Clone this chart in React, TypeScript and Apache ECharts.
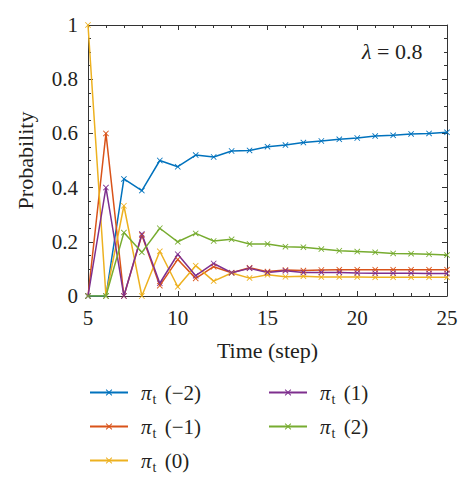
import React, { useEffect, useRef } from "react";
import * as echarts from "echarts";

const steps = [5, 6, 7, 8, 9, 10, 11, 12, 13, 14, 15, 16, 17, 18, 19, 20, 21, 22, 23, 24, 25];
const piM2 = [0, 0, 0.432, 0.389, 0.5, 0.477, 0.52, 0.513, 0.535, 0.537, 0.551, 0.557, 0.566, 0.572, 0.578, 0.583, 0.59, 0.593, 0.598, 0.6, 0.604];
const piM1 = [0, 0.6, 0, 0.225, 0.038, 0.135, 0.065, 0.108, 0.086, 0.104, 0.09, 0.096, 0.094, 0.096, 0.097, 0.097, 0.097, 0.097, 0.097, 0.097, 0.097];
const pi0 = [1.0, 0, 0.333, 0, 0.165, 0.034, 0.112, 0.055, 0.085, 0.066, 0.078, 0.071, 0.073, 0.07, 0.07, 0.07, 0.069, 0.069, 0.069, 0.069, 0.069];
const pi1 = [0, 0.4, 0, 0.229, 0.047, 0.154, 0.075, 0.12, 0.086, 0.102, 0.087, 0.093, 0.087, 0.087, 0.087, 0.085, 0.084, 0.084, 0.084, 0.083, 0.083];
const pi2 = [0, 0, 0.234, 0.161, 0.25, 0.2, 0.231, 0.203, 0.209, 0.192, 0.192, 0.182, 0.18, 0.173, 0.167, 0.164, 0.161, 0.157, 0.156, 0.154, 0.151];

const seriesNames = ["\u22122", "\u22121", "0", "1", "2"];
const seriesValues = [piM2, piM1, pi0, pi1, pi2];
const colors = ["#0072BD", "#D95319", "#EDB120", "#7E2F8E", "#77AC30"];

const xTickInterval = 5;
const yTickInterval = 0.2;

const FONT = "'Liberation Serif', 'DejaVu Serif', serif";
const TEXT = "#231f20";
const AXIS = "#333333";
const XMARK = "path://M0,1 L1,0 L5,4 L9,0 L10,1 L6,5 L10,9 L9,10 L5,6 L1,10 L0,9 L4,5 Z";

export default function App() {
  const ref = useRef<HTMLDivElement>(null);
  useEffect(() => {
    if (!ref.current) return;
    const chart = echarts.init(ref.current, null, { renderer: "svg" });

    const axisCommon = {
      axisLine: { show: true, onZero: false, lineStyle: { color: AXIS, width: 1 } },
      axisTick: { show: true, inside: true, length: 5, lineStyle: { color: AXIS, width: 1 } },
      minorTick: { show: true, length: 3, lineStyle: { color: AXIS, width: 1 } },
      splitLine: { show: false },
    };

    const legendFormatter = (name: string) => `{pi|\u03c0}{sub|t} {n|(${name})}`;
    const legendRich = {
      pi: { fontFamily: FONT, fontStyle: "italic", fontSize: 21, color: TEXT, padding: [0, 0, 0, 8] },
      sub: { fontFamily: FONT, fontSize: 14, color: TEXT, padding: [13, 3, 0, 1] },
      n: { fontFamily: FONT, fontSize: 21, color: TEXT },
    };

    const legendCommon = {
      orient: "vertical",
      itemWidth: 38,
      itemHeight: 8,
      itemGap: 10,
      formatter: legendFormatter,
      textStyle: { rich: legendRich, fontFamily: FONT, fontSize: 21, color: TEXT },
      selectedMode: false,
    };

    chart.setOption({
      animation: false,
      backgroundColor: "#ffffff",
      grid: { left: 88, right: 27, top: 25, bottom: 193, containLabel: false, outerBoundsMode: "none" },
      xAxis: [
        {
          type: "value",
          min: 5,
          max: 25,
          interval: xTickInterval,
          minorTick: { ...axisCommon.minorTick, splitNumber: 5 },
          axisLine: axisCommon.axisLine,
          axisTick: axisCommon.axisTick,
          splitLine: axisCommon.splitLine,
          position: "bottom",
          name: "Time (step)",
          nameLocation: "middle",
          nameGap: 43,
          nameTextStyle: { fontFamily: FONT, fontSize: 22, color: TEXT },
          axisLabel: { fontFamily: FONT, fontSize: 21, color: TEXT, margin: 11 },
        },
        {
          type: "value",
          min: 5,
          max: 25,
          interval: xTickInterval,
          position: "top",
          minorTick: { ...axisCommon.minorTick, splitNumber: 5 },
          axisLine: axisCommon.axisLine,
          axisTick: axisCommon.axisTick,
          splitLine: axisCommon.splitLine,
          axisLabel: { show: false },
        },
      ],
      yAxis: [
        {
          type: "value",
          min: 0,
          max: 1,
          interval: yTickInterval,
          position: "left",
          minorTick: { ...axisCommon.minorTick, splitNumber: 4 },
          axisLine: axisCommon.axisLine,
          axisTick: axisCommon.axisTick,
          splitLine: axisCommon.splitLine,
          name: "Probability",
          nameLocation: "middle",
          nameGap: 52,
          nameTextStyle: { fontFamily: FONT, fontSize: 22, color: TEXT },
          axisLabel: { fontFamily: FONT, fontSize: 21, color: TEXT, margin: 10 },
        },
        {
          type: "value",
          min: 0,
          max: 1,
          interval: yTickInterval,
          position: "right",
          minorTick: { ...axisCommon.minorTick, splitNumber: 4 },
          axisLine: axisCommon.axisLine,
          axisTick: axisCommon.axisTick,
          splitLine: axisCommon.splitLine,
          axisLabel: { show: false },
        },
      ],
      legend: [
        { ...legendCommon, left: 84, top: 377, data: seriesNames.slice(0, 3) },
        { ...legendCommon, left: 263, top: 377, data: seriesNames.slice(3) },
      ],
      graphic: [
        {
          type: "text",
          left: 362,
          top: 40,
          style: {
            text: "{l|\u03bb} = 0.8",
            rich: {
              l: { fontFamily: FONT, fontStyle: "italic", fontSize: 22, fill: TEXT },
            },
            fontFamily: FONT,
            fontSize: 22,
            fill: TEXT,
          },
        },
      ],
      series: seriesNames.map((name, i) => ({
        name,
        type: "line",
        xAxisIndex: 0,
        yAxisIndex: 0,
        data: steps.map((s, j) => [s, seriesValues[i][j]]),
        symbol: XMARK,
        symbolSize: 6,
        showSymbol: true,
        lineStyle: { color: colors[i], width: 1.5 },
        itemStyle: { color: colors[i] },
        emphasis: { disabled: true },
      })),
    });

    return () => chart.dispose();
  }, []);

  return (
    <div
      ref={ref}
      style={{ position: "fixed", left: 0, top: 0, width: 474, height: 489, background: "#fff" }}
    />
  );
}
